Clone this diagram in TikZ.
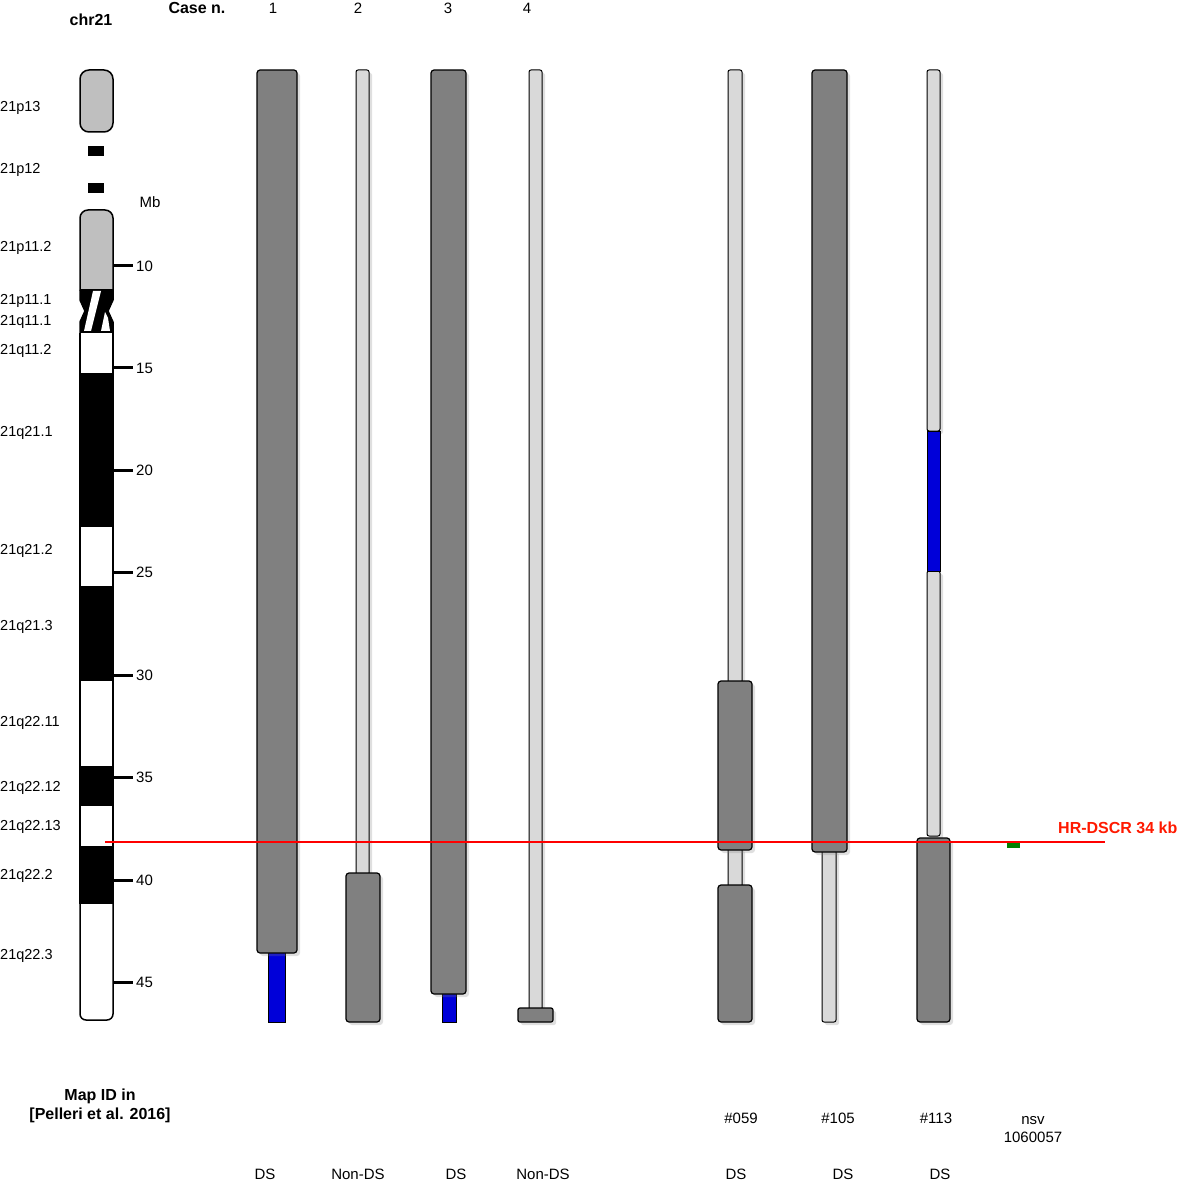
\documentclass[tikz,border=0pt]{standalone}
\usepackage{fontspec}
\setmainfont{Liberation Sans}
\usetikzlibrary{shadows}
\begin{document}
\begin{tikzpicture}[x=1pt,y=-1pt,
  dk/.style={draw=black,line width=1.2pt,fill=black!50,rounded corners=3pt,drop shadow={opacity=0.25,shadow xshift=3pt,shadow yshift=-3pt}},
  lt/.style={draw=black,line width=1pt,fill=black!15,rounded corners=2pt,drop shadow={opacity=0.25,shadow xshift=3pt,shadow yshift=-3pt}},
  bl/.style={draw=black,line width=1pt,fill=blue!85!black},
  txt/.style={font=\fontsize{15}{18}\selectfont,inner sep=0pt},
  lbl/.style={font=\fontsize{14.5}{17}\selectfont,inner sep=0pt,anchor=west},
  bt/.style={font=\bfseries\fontsize{16}{19}\selectfont,inner sep=0pt,align=center}]
\useasboundingbox (0,0) rectangle (1200,1182);
% chromosome
\draw[line width=1.5pt,fill=black!25,rounded corners=9pt] (80,70) rectangle (113,132);
\fill (88,146) rectangle (104,156);
\fill (88,183) rectangle (104,193);
\draw[line width=1.5pt,fill=black!25,rounded corners=8pt] (80,290) -- (80,210) -- (113,210) [sharp corners]-- (113,290) -- cycle;
\fill (80,290) -- (113,290) -- (113,300) -- (108,311) -- (113,322) -- (113,333) -- (80,333) -- (80,322) -- (85,311) -- (80,300) -- cycle;
\fill[white] (93,291) -- (101,291) -- (91,331) -- (84,331) -- cycle;
\fill[white] (105,312) -- (108,318) -- (110,331) -- (101,331) -- cycle;
\draw[line width=1.5pt] (80,290) -- (80,300) -- (85,311) -- (80,322) -- (80,333);
\draw[line width=1.5pt] (113,290) -- (113,300) -- (108,311) -- (113,322) -- (113,333);
\fill[white] (80,333) rectangle (113,373);
\fill (80,373) rectangle (113,527);
\fill[white] (80,527) rectangle (113,586);
\fill (80,586) rectangle (113,681);
\fill[white] (80,681) rectangle (113,766);
\fill (80,766) rectangle (113,806);
\fill[white] (80,806) rectangle (113,846);
\fill (80,846) rectangle (113,904);
\draw[line width=1.5pt] (80,333) -- (80,904) (113,333) -- (113,904);
\draw[line width=1.5pt,fill=white,rounded corners=6pt] (80,904) -- (80,1020) -- (113,1020) -- (113,904);
% ticks
\foreach \y/\v in {266/10,368/15,470/20,572/25,675/30,777/35,880/40,982/45}{
  \draw[line width=3pt] (113,\y) -- (133,\y);
  \node[txt,anchor=west] (t\v) at (136,\y) {\v};}
\node[txt] (mb) at (150,202) {Mb};
% band labels
\foreach \y/\t in {108/21p13,170/21p12,248/21p11.2,301/21p11.1,322/21q11.1,351/21q11.2,433/21q21.1,551/21q21.2,627/21q21.3,723/21q22.11,788/21q22.12,827/21q22.13,876/21q22.2,956/21q22.3}
  \node[lbl] at (0,\y) {\t};
% headers
\node[bt] (chr) at (91,20) {chr21};
\node[bt] (case) at (197,8) {Case n.};
\foreach \x/\n in {273/1,358/2,448/3,527/4} \node[txt] at (\x,8) {\n};
% columns
\draw[bl] (268,950) rectangle (285,1022);
\draw[dk] (257,70) rectangle (297,953);
\draw[lt] (356,70) rectangle (369,875);
\draw[dk] (346,873) rectangle (380,1022);
\draw[bl] (442,990) rectangle (456,1022);
\draw[dk] (431,70) rectangle (466,994);
\draw[lt] (529,70) rectangle (542,1010);
\draw[dk,rounded corners=2pt] (518,1008) rectangle (553,1022);
\draw[lt] (728,70) rectangle (742,683);
\draw[lt] (728,848) rectangle (742,887);
\draw[dk] (718,681) rectangle (752,850);
\draw[dk] (718,885) rectangle (752,1022);
\draw[lt] (822,850) rectangle (836,1022);
\draw[dk] (812,70) rectangle (847,852);
\draw[lt] (927,70) rectangle (940,431);
\draw[lt] (927,571) rectangle (940,836);
\draw[bl] (927,431) rectangle (940,571);
\draw[dk] (917,838) rectangle (950,1022);
% HR-DSCR
\coordinate (ra) at (105,842);
\coordinate (rb) at (1105,842);
\draw[red,line width=1.2pt] (ra) -- (rb);
\node[font=\bfseries\fontsize{16}{19}\selectfont,text=red!80!orange,inner sep=0pt,anchor=west] (hr) at (1058,828) {HR-DSCR 34 kb};
\fill[green!50!black] (1007,843) rectangle (1020,848);
% bottom labels
\node[bt] (map) at (100,1106) {Map ID in\\{[}Pelleri et al. 2016{]}};
\foreach \x/\t in {741/\#059,838/\#105,936/\#113} \node[txt] at (\x,1118) {\t};
\node[txt,align=center] (nsv) at (1033,1130) {nsv\\1060057};
\foreach \x/\t in {265/DS,358/Non-DS,456/DS,543/Non-DS,736/DS,843/DS,940/DS} \node[txt] at (\x,1174) {\t};
\end{tikzpicture}
\end{document}
